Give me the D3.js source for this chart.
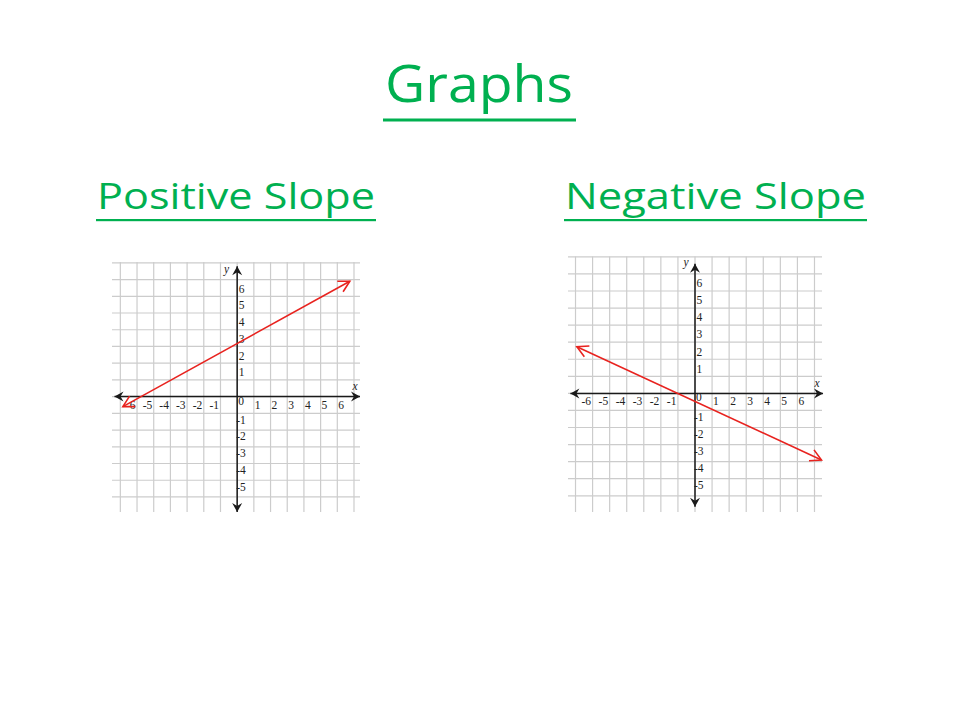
<!DOCTYPE html>
<html>
<head>
<meta charset="utf-8">
<script src="https://cdn.jsdelivr.net/npm/d3@7"></script>
<style>
  body { margin: 0; background: #fff; }
  svg { display: block; }
</style>
</head>
<body>
<div id="slide"></div>
<script>
// headings
var mainTitle = "Graphs";
var panelTitles = ["Positive Slope", "Negative Slope"];

// tick labels on the axes
var xTicks = [-6, -5, -4, -3, -2, -1, 1, 2, 3, 4, 5, 6];
var yTicks = [-5, -4, -3, -2, -1, 1, 2, 3, 4, 5, 6];
var gridX = [-7, -6, -5, -4, -3, -2, -1, 0, 1, 2, 3, 4, 5, 6, 7];
var gridY = [-6, -5, -4, -3, -2, -1, 0, 1, 2, 3, 4, 5, 6, 7, 8];

// end points of the red lines (graph units)
var positiveLine = [[-6.85, -0.6], [6.75, 6.9]];
var negativeLine = [[-6.92, 2.73], [7.41, -3.9]];

var W = 960, H = 720;
var green = "#00b050";

var svg = d3.select("#slide").append("svg")
    .attr("width", W)
    .attr("height", H);

// main title, underlined
svg.append("text")
    .attr("x", 385).attr("y", 102)
    .attr("textLength", 188).attr("lengthAdjust", "spacingAndGlyphs")
    .attr("font-family", "'Open Sans', sans-serif")
    .attr("font-size", 52)
    .attr("fill", green)
    .text(mainTitle);
svg.append("rect")
    .attr("x", 383).attr("y", 118.5)
    .attr("width", 193).attr("height", 3)
    .attr("fill", green);

// sub titles
var subs = [{x: 97, w: 278}, {x: 565, w: 301}];
subs.forEach(function(s, i) {
  svg.append("text")
      .attr("x", s.x).attr("y", 209)
      .attr("textLength", s.w).attr("lengthAdjust", "spacingAndGlyphs")
      .attr("font-family", "'Open Sans', sans-serif")
      .attr("font-size", 37)
      .attr("fill", green)
      .text(panelTitles[i]);
  svg.append("rect")
      .attr("x", s.x - 1).attr("y", 219)
      .attr("width", s.w + 2).attr("height", 2.2)
      .attr("fill", green);
});

function drawPanel(cfg, linePts) {
  var x = d3.scaleLinear().domain(cfg.xDomain).range(cfg.xRange),
      y = d3.scaleLinear().domain(cfg.yDomain).range(cfg.yRange);

  var g = svg.append("g");

  // grid
  g.selectAll(".gx").data(gridX).enter().append("line")
      .attr("x1", function(d) { return x(d); })
      .attr("x2", function(d) { return x(d); })
      .attr("y1", y.range()[0]).attr("y2", y.range()[1])
      .attr("stroke", "#cccccc").attr("stroke-width", 1.2);
  g.selectAll(".gy").data(gridY).enter().append("line")
      .attr("y1", function(d) { return y(d); })
      .attr("y2", function(d) { return y(d); })
      .attr("x1", x.range()[0]).attr("x2", x.range()[1])
      .attr("stroke", "#cccccc").attr("stroke-width", 1.2);

  // axes
  var ax = cfg.axis;
  g.append("line")
      .attr("x1", x(ax.xMin)).attr("x2", x(ax.xMax))
      .attr("y1", y(0)).attr("y2", y(0))
      .attr("stroke", "#1a1a1a").attr("stroke-width", 1.5);
  g.append("line")
      .attr("x1", x(0)).attr("x2", x(0))
      .attr("y1", y(ax.yMin)).attr("y2", y(ax.yMax))
      .attr("stroke", "#1a1a1a").attr("stroke-width", 1.5);

  // filled arrow heads on the axes
  function head(px, py, angle) {
    g.append("path")
        .attr("d", "M0,0 L-9,-5 L-6,0 L-9,5 Z")
        .attr("transform", "translate(" + px + "," + py + ") rotate(" + angle + ")")
        .attr("fill", "#1a1a1a");
  }
  head(x(ax.xMax), y(0), 0);
  head(x(ax.xMin), y(0), 180);
  head(x(0), y(ax.yMax), -90);
  head(x(0), y(ax.yMin), 90);

  // tick labels
  var font = "'Liberation Serif', 'DejaVu Serif', serif";
  g.selectAll(".tx").data(xTicks).enter().append("text")
      .attr("x", function(d) { return d < 0 ? x(d) - 1.5 : x(d) + 1; })
      .attr("y", y(0) + 12)
      .attr("text-anchor", function(d) { return d < 0 ? "end" : "start"; })
      .attr("font-family", font).attr("font-size", 11.5)
      .attr("fill", "#222")
      .text(function(d) { return d; });
  g.selectAll(".ty").data(yTicks).enter().append("text")
      .attr("x", function(d) { return d < 0 ? x(0) - 1 : x(0) + 1.5; })
      .attr("y", function(d) { return d < 0 ? y(d - 0.38) + 4 : y(d + 0.45) + 4; })
      .attr("font-family", font).attr("font-size", 11.5)
      .attr("fill", "#222")
      .text(function(d) { return d; });
  g.append("text")
      .attr("x", x(0) + 1).attr("y", y(0) + 8)
      .attr("font-family", font).attr("font-size", 11.5)
      .attr("fill", "#222")
      .text("0");
  g.append("text")
      .attr("x", x(cfg.xLab[0])).attr("y", y(cfg.xLab[1]))
      .attr("text-anchor", "middle")
      .attr("font-family", font).attr("font-style", "italic").attr("font-size", 11.5)
      .attr("fill", "#222")
      .text("x");
  g.append("text")
      .attr("x", x(cfg.yLab[0])).attr("y", y(cfg.yLab[1]))
      .attr("text-anchor", "middle")
      .attr("font-family", font).attr("font-style", "italic").attr("font-size", 11.5)
      .attr("fill", "#222")
      .text("y");

  // red line with open arrow heads
  var line = d3.line()
      .x(function(d) { return x(d[0]); })
      .y(function(d) { return y(d[1]); });
  g.append("path")
      .datum(linePts)
      .attr("d", line)
      .attr("fill", "none")
      .attr("stroke", "#e8231f").attr("stroke-width", 1.6);

  function openHead(p, q) {
    var tx = x(p[0]), ty = y(p[1]);
    var ang = Math.atan2(ty - y(q[1]), tx - x(q[0])) * 180 / Math.PI;
    g.append("path")
        .attr("d", "M-11,-6 L0,0 L-11,6")
        .attr("transform", "translate(" + tx + "," + ty + ") rotate(" + ang + ")")
        .attr("fill", "none")
        .attr("stroke", "#e8231f").attr("stroke-width", 1.6)
        .attr("stroke-linejoin", "miter");
  }
  openHead(linePts[0], linePts[1]);
  openHead(linePts[1], linePts[0]);
}

drawPanel({
  xDomain: [-7.5, 7.36], xRange: [112, 360],
  yDomain: [-6.9, 8.05], yRange: [512, 262],
  axis: {xMin: -7.35, xMax: 7.36, yMin: -6.9, yMax: 7.8},
  xLab: [7.06, 0.42], yLab: [-0.64, 7.4]
}, positiveLine);

drawPanel({
  xDomain: [-7.44, 7.44], xRange: [568, 822],
  yDomain: [-6.95, 8.02], yRange: [512, 256.5],
  axis: {xMin: -7.3, xMax: 7.5, yMin: -6.64, yMax: 7.6},
  xLab: [7.15, 0.38], yLab: [-0.53, 7.45]
}, negativeLine);
</script>
</body>
</html>
